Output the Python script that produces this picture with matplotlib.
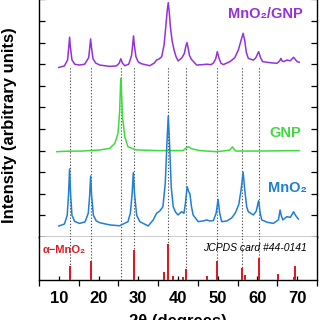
import numpy as np
import matplotlib
matplotlib.use("Agg")
import matplotlib.pyplot as plt

plt.rcParams['font.family'] = ['Liberation Sans', 'DejaVu Sans']

# ---------------- Data ----------------
# MnO2/GNP pattern (2theta, intensity in arbitrary units)
gnp_comp_x = [10.0, 11.4, 12.2, 12.5, 12.7, 12.9, 13.3, 14.0, 15.2, 16.5, 17.5, 17.8, 18.0, 18.2,
              18.6, 19.3, 20.3, 22.8, 24.5, 25.2, 25.6, 26.0, 26.6, 27.6, 28.3, 28.6, 28.8, 29.0,
              29.4, 30.0, 30.8, 32.9, 34.0, 34.6, 35.3, 35.9, 36.5, 36.9, 37.3, 37.55, 37.8, 38.1,
              38.5, 39.0, 39.5, 40.05, 41.0, 41.6, 42.0, 42.25, 42.5, 42.9, 43.4, 44.7, 46.2, 47.2,
              48.3, 48.9, 49.5, 49.9, 50.3, 50.8, 51.4, 53.1, 54.3, 55.2, 55.8, 56.4, 56.8, 57.2,
              57.7, 59.0, 59.6, 60.3, 60.8, 61.3, 63.2, 64.9, 65.6, 65.9, 66.2, 66.6, 67.4, 68.3,
              69.1, 70.0, 70.5]
gnp_comp_y = [7.85, 7.92, 8.2, 8.8, 9.25, 8.8, 8.2, 8.0, 7.96, 8.0, 8.3, 8.8, 9.17, 8.8,
              8.25, 8.05, 7.96, 7.9, 7.92, 8.05, 8.25, 8.05, 7.93, 8.0, 8.4, 8.9, 9.31, 8.9,
              8.35, 8.1, 8.02, 7.93, 8.05, 8.19, 8.25, 8.35, 8.9, 9.7, 10.5, 10.85, 10.4, 9.7,
              9.1, 8.66, 8.35, 8.15, 8.3, 8.5, 8.85, 9.0, 8.8, 8.4, 8.22, 7.96, 7.98, 8.0,
              7.98, 8.05, 8.25, 8.58, 8.3, 8.05, 7.98, 8.12, 8.3, 8.66, 9.05, 9.43, 9.1, 8.55,
              8.27, 8.19, 8.3, 8.58, 8.3, 8.12, 8.07, 8.04, 8.15, 8.27, 8.15, 8.12, 8.19, 8.16,
              8.32, 8.12, 8.09]

# GNP pattern
gnp_x = [9.5, 12.0, 16.0, 20.3, 22.8, 24.1, 24.9, 25.3, 25.5, 25.6, 25.75, 26.0, 26.6, 27.4,
         29.5, 35.0, 41.3, 42.0, 42.6, 43.5, 45.5, 49.7, 53.0, 53.7, 54.2, 54.6, 60.0, 70.5]
gnp_y = [3.95, 3.97, 3.98, 4.03, 4.1, 4.34, 4.8, 5.8, 6.9, 7.35, 6.9, 5.6, 4.64, 4.18,
         4.03, 4.0, 4.0, 4.12, 4.18, 4.08, 4.0, 3.95, 4.02, 4.17, 4.05, 3.98, 3.98, 4.0]

# MnO2 pattern
mno2_x = [10.0, 11.4, 12.1, 12.45, 12.7, 12.95, 13.3, 14.0, 15.2, 16.6, 17.4, 17.75, 18.0, 18.25,
          18.7, 19.4, 20.3, 22.8, 25.3, 27.4, 28.0, 28.45, 28.75, 29.05, 29.6, 30.4, 32.5, 33.8,
          34.6, 35.4, 36.2, 36.8, 37.2, 37.55, 37.9, 38.3, 38.8, 39.4, 40.0, 40.9, 41.5, 41.9,
          42.3, 42.7, 43.0, 43.4, 43.8, 45.1, 46.5, 47.2, 48.0, 48.9, 49.6, 50.1, 50.5, 51.0,
          52.3, 53.5, 54.4, 55.3, 55.9, 56.4, 56.8, 57.3, 57.7, 59.0, 59.7, 60.3, 60.7, 61.1,
          62.5, 64.0, 65.3, 65.7, 66.0, 66.4, 67.4, 68.3, 69.1, 69.6, 70.3]
mno2_y = [0.51, 0.6, 1.0, 2.0, 3.15, 2.0, 1.0, 0.72, 0.63, 0.7, 1.1, 1.9, 2.82, 1.9,
          1.0, 0.75, 0.66, 0.56, 0.52, 0.71, 1.1, 2.0, 2.98, 2.0, 1.0, 0.71, 0.51, 0.8,
          1.1, 1.2, 1.4, 2.5, 4.3, 5.6, 4.2, 2.3, 1.4, 1.15, 1.02, 1.17, 1.1, 1.6,
          2.33, 2.1, 2.0, 1.4, 1.02, 0.71, 0.75, 0.79, 0.74, 0.76, 1.1, 1.74, 1.1, 0.71,
          0.74, 0.88, 1.1, 1.5, 2.2, 3.0, 2.2, 1.4, 1.17, 1.02, 1.2, 1.68, 1.1, 0.79,
          0.68, 0.63, 0.8, 1.25, 1.0, 0.79, 0.94, 0.91, 1.17, 1.0, 0.83]

# JCPDS card #44-0141 reference lines (relative intensity)
ref_pos = [12.7, 18.0, 28.8, 36.5, 37.5, 38.8, 41.2, 42.0, 47.2, 49.8, 56.2, 56.9, 60.3, 65.3, 69.1, 69.5]
ref_int = [39, 53, 83, 23, 100, 12, 7.5, 31, 11, 53, 32, 14, 62, 17, 7.5, 39]

# guide lines
guide_pos = [12.7, 18.0, 25.7, 28.8, 37.5, 42.0, 49.9, 56.2, 60.3]

purple = '#9430DC'
green = '#3EDB3E'
blue = '#1F7FD6'
red = '#DD1A22'
dots = (0, (1.2, 1.6))

# ---------------- Plot ----------------
fig = plt.figure(figsize=(3.2, 3.2), dpi=100)
ax = fig.add_axes([39/320, 83/320, 278/320, 248/320])
axr = fig.add_axes([39/320, 40/320, 278/320, 43/320])

ax.vlines(guide_pos, 0, 7.85, colors='#555555', linestyles=dots, lw=0.8, zorder=1)
ax.plot(gnp_comp_x, gnp_comp_y, color=purple, lw=1.1, zorder=3)
ax.plot(gnp_x, gnp_y, color=green, lw=1.1, zorder=3)
ax.plot(mno2_x, mno2_y, color=blue, lw=1.1, zorder=3)

ax.set_xlim(5, 75)
ax.set_ylim(0, 248/21.6)
ax.set_yticks(np.arange(0, 12, 1))
ax.tick_params(axis='y', which='both', direction='in', left=True, right=True,
               labelleft=False, length=4, width=0.9)
ax.tick_params(axis='x', bottom=False, labelbottom=False)
for s in ax.spines.values():
    s.set_linewidth(1.0)

ax.text(71.5, 10.14, 'MnO₂/GNP', color=purple, fontsize=10.5, fontweight='bold',
        ha='right', va='baseline')
ax.text(70.95, 4.64, 'GNP', color=green, fontsize=10.5, fontweight='bold',
        ha='right', va='baseline')
ax.text(72.5, 2.08, 'MnO₂', color=blue, fontsize=10.5, fontweight='bold',
        ha='right', va='baseline')

axr.vlines(guide_pos, 0, 120, colors='#555555', linestyles=dots, lw=0.8, zorder=1)
axr.bar(ref_pos, ref_int, width=0.5, color=red, zorder=3)
axr.set_xlim(5, 75)
axr.set_ylim(0, 119.4)
axr.set_yticks([])
axr.set_xticks(np.arange(10, 71, 10))
axr.set_xticks(np.arange(5, 76, 10), minor=True)
axr.tick_params(axis='x', which='major', direction='in', length=3, width=0.9,
                labelsize=12, pad=8)
axr.tick_params(axis='x', which='minor', direction='out', length=4, width=0.9)
for lab in axr.get_xticklabels():
    lab.set_fontweight('bold')
axr.spines['top'].set_visible(False)
for s in axr.spines.values():
    s.set_linewidth(1.0)

axr.text(5.9, 75, 'α−MnO₂', color=red, fontsize=8, fontweight='bold',
         ha='left', va='baseline')
axr.text(72.5, 80, 'JCPDS card #44-0141', color='black', fontsize=7.5, style='italic',
         ha='right', va='baseline')

fig.text(10/320, 1 - 125/320, 'Intensity (arbitrary units)', rotation=90, fontsize=12,
         fontweight='bold', ha='center', va='center')
fig.text(178/320, 1 - 314/320, '2θ (degrees)', fontsize=12, fontweight='bold',
         ha='center', va='top')

fig.savefig('out.png', dpi=100)
